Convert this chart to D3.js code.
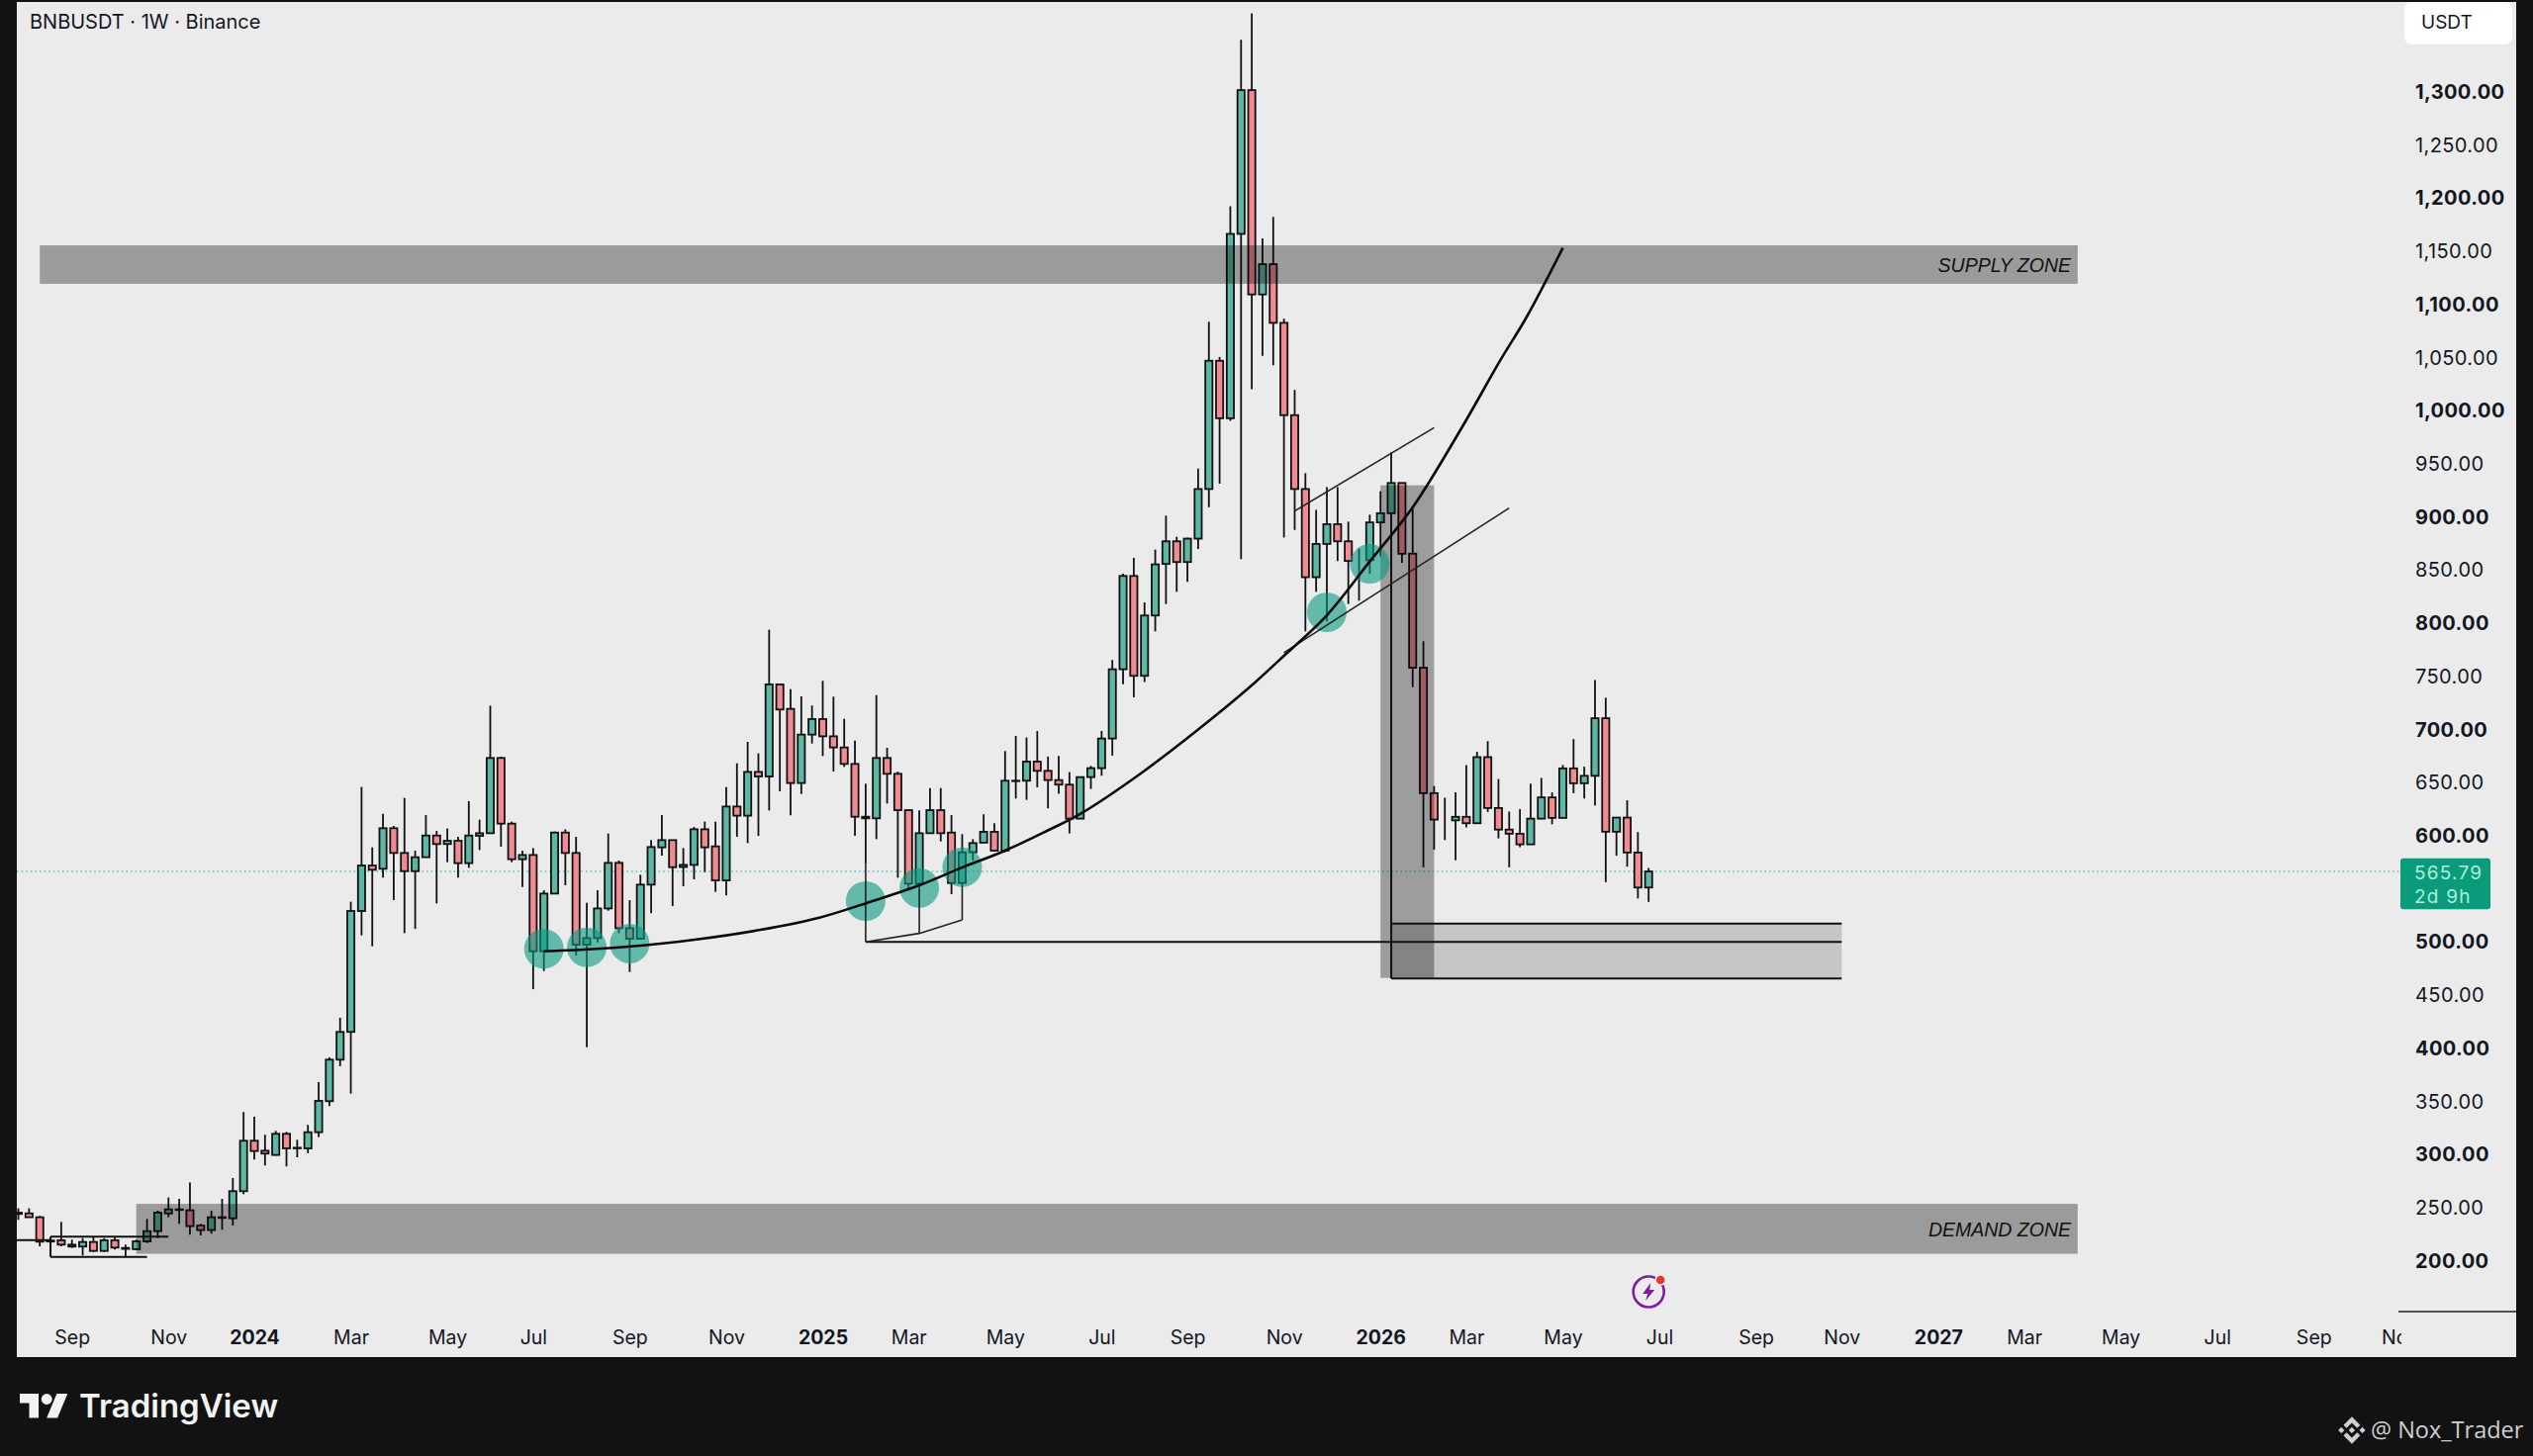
<!DOCTYPE html>
<html>
<head>
    <meta charset='utf-8'>
    <title>BNBUSDT 1W</title>
    <script src="https://cdn.jsdelivr.net/npm/d3@7"></script>
    <style type="text/css">
        html, body { margin: 0; padding: 0; background: #121212; }
        svg { display: block; }
        text { font-family: Inter, "Liberation Sans", sans-serif; }
        .axis text { fill: #131722; }
        .axis .domain { display: none; }
        .price-axis text { font-size: 20px; letter-spacing: 0.4px; }
        .time-axis text { font-size: 19.5px; }
        .wick { stroke: #111; stroke-width: 1.8; }
        .body { stroke: #111; stroke-width: 1.8; }
        .up { fill: #5cb8a3; }
        .down { fill: #f08a93; }
        .draw { fill: none; stroke: #111; stroke-width: 2; }
        .thin { fill: none; stroke: #222; stroke-width: 1.6; }
        .zone-label { font-family: "Liberation Sans", sans-serif; font-style: italic; font-size: 19.5px; fill: #111; text-anchor: end; }
    </style>
</head>
<body>
    <div id="svgContainer"></div>

    <script type="text/javascript">

        const width = 2560;
        const height = 1472;

        // weekly candles, first one is 22 weeks before 2024-01-01
        const firstWeek = -22;
        const opens = [
            244.7, 244, 240.4, 217.5, 218.7, 214.6, 212.8, 217.1, 208.7, 218.7,
            211.5, 210.3, 217.7, 227.3, 244, 247.8, 246.9, 232.6, 228.3, 240.4,
            239.4, 264.9, 312.4, 303, 299, 318.9, 305.2, 305.2, 320.4, 349.6,
            388.7, 414.8, 528.6, 571.4, 568.3, 606.5, 583.2, 566.1, 579.2, 599.6,
            591.6, 594.7, 573.6, 599.3, 601.8, 672.6, 610.8, 577.3, 581.3, 490.7,
            545, 602.4, 583.2, 496.9, 503.1, 531, 573.9, 512.4, 502.5, 553.4,
            588.5, 595.3, 570, 572, 605.5, 589.4, 557.4, 626.9, 618.3, 659.5,
            655.2, 741.8, 718.8, 649, 694.6, 709.2, 693, 682.5, 667, 617.3,
            615.8, 672.6, 657.7, 623.5, 554.3, 601.8, 623.5, 602.4, 554.9, 583.8,
            592.9, 603.1, 585.4, 651.2, 651.2, 669.2, 660.5, 651.8, 647.5, 615.5,
            654.6, 663, 690.9, 756.1, 843.9, 749.9, 806.7, 855.2, 876.5, 857,
            879, 925.7, 1046.4, 992.3, 1165.8, 1301.1, 1108.8, 1137.3, 1082.1, 995.2,
            925.7, 842.7, 874, 892.6, 876.5, 858.7, 858.7, 894.3, 902.9, 931.4,
            864.9, 757.5, 639.5, 615.2, 613.9, 617.2, 611.2, 673.4, 625.5, 605.2,
            601.3, 591.3, 615.5, 635.5, 616.2, 662.8, 648.8, 655.8, 710, 603.2,
            616.5, 583.6, 550.7
        ];
        const closes = [
            243.5, 240.4, 217.4, 218.5, 214.6, 212.8, 217.1, 208.7, 218.7, 211.8,
            210.6, 217.7, 227.3, 244.7, 247.8, 247.2, 232, 228.3, 240.4, 239.8,
            264.9, 312.4, 302.7, 300.3, 318.9, 305.2, 305.8, 320.4, 349.9, 388.7,
            414.8, 528.6, 571.4, 567.4, 606.5, 583.2, 566.1, 579.2, 599.6, 591.6,
            594.7, 573.6, 599.6, 601.8, 672.6, 610.8, 577.3, 581.3, 490.7, 545,
            602.4, 583.2, 496.9, 503.1, 531, 573.9, 512.4, 502.5, 553.4, 588.8,
            595.3, 569.8, 572, 605.5, 588.5, 557.4, 626.9, 618.3, 659.5, 655.2,
            741.8, 718.2, 649, 694.6, 709.2, 693, 682.5, 667, 617.3, 615.8,
            672.6, 657.7, 623.5, 554.3, 601.8, 623.5, 601.8, 554.9, 583.8, 592.5,
            603.1, 585.4, 651.2, 650.8, 669.2, 660.5, 651.8, 647.5, 615.5, 654.6,
            663, 690.9, 756.1, 843.9, 749.9, 806.7, 854.8, 876.5, 857, 879,
            925.7, 1046.4, 992.3, 1165.8, 1301.1, 1108.8, 1137.3, 1082.1, 995.2, 925.7,
            842.7, 874, 892.6, 876.5, 858, 858.7, 894.3, 902.9, 931.4, 864.8,
            757.5, 639.5, 614.6, 615.2, 617.2, 611.2, 673.4, 625.5, 605.2, 601.3,
            591.3, 615.5, 635.5, 616.2, 662.8, 648.8, 655.8, 710, 603.2, 616.5,
            583.6, 550.7, 565.8
        ];
        const highs = [
            248.8, 248.8, 241.6, 221, 236, 219.3, 220.8, 221.8, 220.8, 222.4,
            214.6, 219.3, 238.8, 246.6, 259, 257.7, 273, 234.2, 246.6, 257.7,
            277.3, 339.4, 335, 318, 321.7, 320.7, 313.3, 327.3, 367.6, 390.9,
            428.1, 537.3, 645.3, 588.5, 620.1, 608.6, 635, 585.4, 618.9, 604,
            606.2, 598.4, 631.9, 614.5, 721.9, 673.8, 612.7, 585.4, 587.8, 548.1,
            603.4, 605.5, 598.4, 536.3, 548.1, 601.5, 576.1, 538.8, 562.7, 595.3,
            618.9, 595.3, 587.8, 607.7, 612.7, 612.7, 645.3, 667.6, 687.8, 676.9,
            793.3, 741.8, 737.4, 730.6, 722, 745.2, 730.3, 709.5, 689, 648.4,
            731.8, 682.2, 659.8, 624, 623.2, 644.3, 644.3, 618.9, 600.9, 596.2,
            619.6, 611.2, 679.1, 693.4, 691.9, 698, 673.9, 674.5, 659.3, 654.6,
            665.2, 698, 764.8, 846, 861, 819, 868.7, 900.7, 880.8, 880,
            944.9, 1083.1, 1050, 1191.8, 1348.5, 1373.4, 1161.5, 1181.8, 1086, 1019,
            940.6, 906.1, 927.5, 927.5, 895, 869.4, 901.5, 923.6, 960.2, 931.4,
            907, 782.5, 646.1, 635.2, 640.2, 666, 678.4, 688.4, 652.8, 622.2,
            624.5, 648.5, 653.8, 640.2, 666, 690.4, 664.4, 745.9, 729.3, 616.5,
            632.8, 602.9, 569
        ];
        const lows = [
            237.9, 240.1, 213, 214, 213, 211.5, 204.4, 207.8, 207.8, 210,
            203.8, 209.6, 216.2, 220.8, 240.4, 234.2, 223.9, 223.3, 224.9, 228.6,
            232.6, 262.1, 294.7, 289.1, 298.4, 288.2, 296.8, 300.6, 315.8, 345,
            382.5, 356.7, 505.6, 495.4, 559.9, 538.8, 507.8, 511.8, 579.2, 535.7,
            574.5, 559.9, 569.2, 586, 601.8, 589.1, 574.5, 551.2, 455, 472.1,
            544.4, 552.8, 486.7, 400.4, 499.1, 528.9, 507.8, 471.2, 501.6, 526.4,
            580.7, 533.2, 551.9, 558.4, 565.2, 546.6, 543.2, 598.4, 592.5, 599.3,
            623.2, 641.2, 618.6, 638.7, 686.2, 674.4, 659.8, 664.2, 599.3, 573,
            596.2, 629.7, 559.9, 548.1, 549.7, 601.8, 594.1, 544.4, 550.6, 576.1,
            592.9, 584.8, 583.9, 634.4, 633.2, 645, 625.1, 638.8, 601.6, 615.5,
            643.4, 655.9, 674.8, 742, 729.7, 744, 791.8, 817.5, 829, 838.4,
            869.4, 908.6, 930.7, 989.8, 859.8, 1019.7, 1051.1, 1042.2, 880.1, 887.2,
            791.8, 829, 801.1, 858, 817.5, 820.6, 846, 862.3, 903, 856.2,
            739.2, 569.7, 586.3, 595.3, 576.3, 607.2, 611.2, 621.9, 596.9, 569.7,
            588.6, 591.3, 615.5, 610.2, 616.2, 639.5, 634.5, 627.9, 555.7, 580.6,
            570.3, 540.4, 537.1
        ];

        const lastPrice = 565.79;
        const countdown = "2d 9h";

        // 550 sits behind the last price tag on the chart, so it is left out
        const priceTicks = [200, 250, 300, 350, 400, 450, 500, 600, 650, 700, 750, 800, 850, 900, 950, 1000, 1050, 1100, 1150, 1200, 1250, 1300];

        const timeTickWeeks = [-17, -8, 0, 9, 18, 26, 35, 44, 53, 61, 70, 79, 87, 96, 105, 113, 122, 131, 140, 148, 157, 165, 174, 183, 192, 200];
        const timeTickLabels = ["Sep", "Nov", "2024", "Mar", "May", "Jul", "Sep", "Nov", "2025", "Mar", "May", "Jul", "Sep", "Nov", "2026", "Mar", "May", "Jul", "Sep", "Nov", "2027", "Mar", "May", "Jul", "Sep", "Nov"];

        // drawings on the chart
        const supplyWeeks = [-20, 170], supplyPrices = [1118.8, 1155];
        const demandWeeks = [-11, 170], demandPrices = [206, 253];
        const dropWeeks = [105, 110], dropPrices = [465.6, 929.2];
        const boxWeeks = [106, 148], boxPrices = [465, 516.8];
        const levelWeeks = [57, 148], levelPrice = 499.5;
        const bracketWeeks = [57, 62, 66], bracketPrices = [499.5, 507.5, 520.2];
        const rangeWeeks = [-19, -10, -8], rangeTop = 222.1, rangeBottom = 203.1, rangeTail = [-23, -19], rangeTailPrice = 218.9;
        const upperWeeks = [97, 110], upperPrices = [905, 983.4];
        const lowerWeeks = [96, 117], lowerPrices = [771.6, 907.8];
        const circleWeeks = [27, 31, 35, 57, 62, 66, 100, 104];
        const circlePrices = [493, 494.4, 497.9, 537.9, 550.3, 569.8, 809.7, 855.3];
        const curveWeeks = [27, 30.7, 34.9, 41.05, 47.2, 52.6, 57.1, 62, 65.8, 70, 73.9, 77, 82.9, 89.1, 93.3, 96.1, 100, 104, 108, 112.6, 116.2, 118.6, 122];
        const curvePrices = [490.7, 492.3, 495.1, 501.6, 510.9, 522.1, 536.1, 552.8, 568.7, 585.4, 604, 619.9, 659.9, 708.3, 743.7, 769.7, 806.9, 857.5, 908.4, 983.8, 1047.4, 1087.1, 1152.6];

        const candles = opens.map((o, i) => ({ week: firstWeek + i, open: o, close: closes[i], high: highs[i], low: lows[i] }));

        const x = d3.scaleLinear().domain([0, 130]).range([257, 1666.2]);
        const y = d3.scaleLinear().domain([200, 1300]).range([1274, 92.3]);

        const svg = d3.select("#svgContainer").append("svg")
            .attr("width", width)
            .attr("height", height);

        const defs = svg.append("defs");
        defs.append("clipPath").attr("id", "pane").append("rect")
            .attr("x", 17).attr("y", 2).attr("width", 2526).attr("height", 1370);
        defs.append("clipPath").attr("id", "timeClip").append("rect")
            .attr("x", 17).attr("y", 1327).attr("width", 2410).attr("height", 45);

        svg.append("rect").attr("width", width).attr("height", height).attr("fill", "#121212");
        svg.append("rect").attr("x", 17).attr("y", 2).attr("width", 2526).attr("height", 1370).attr("fill", "#ebebeb");

        const pane = svg.append("g").attr("clip-path", "url(#pane)");

        // last price line
        pane.append("line")
            .attr("x1", 17).attr("x2", 2426)
            .attr("y1", y(lastPrice)).attr("y2", y(lastPrice))
            .attr("stroke", "#089981").attr("stroke-opacity", 0.55)
            .attr("stroke-width", 1.6).attr("stroke-dasharray", "1.6 3");

        const candle = pane.append("g").selectAll("g")
            .data(candles)
            .join("g");

        candle.append("line")
            .attr("class", "wick")
            .attr("x1", d => x(d.week)).attr("x2", d => x(d.week))
            .attr("y1", d => y(d.high)).attr("y2", d => y(d.low));

        candle.append("rect")
            .attr("class", d => "body " + (d.close >= d.open ? "up" : "down"))
            .attr("x", d => x(d.week) - 3.6)
            .attr("width", 7.2)
            .attr("y", d => y(Math.max(d.open, d.close)))
            .attr("height", d => Math.abs(y(d.open) - y(d.close)));

        // zones, drawn over the candles so they show through
        function zone(weeks, prices, opacity) {
            pane.append("rect")
                .attr("x", x(weeks[0])).attr("width", x(weeks[1]) - x(weeks[0]))
                .attr("y", y(prices[1])).attr("height", y(prices[0]) - y(prices[1]))
                .attr("fill", "#000").attr("fill-opacity", opacity);
        }
        zone(supplyWeeks, supplyPrices, 0.34);
        zone(demandWeeks, demandPrices, 0.34);
        zone(dropWeeks, dropPrices, 0.33);
        zone(boxWeeks, boxPrices, 0.16);

        pane.append("text").attr("class", "zone-label").attr("x", 2093).attr("y", 275).text("SUPPLY ZONE");
        pane.append("text").attr("class", "zone-label").attr("x", 2093).attr("y", 1250).text("DEMAND ZONE");

        // teal touch circles
        pane.append("g").selectAll("circle")
            .data(circleWeeks)
            .join("circle")
            .attr("cx", d => x(d))
            .attr("cy", (d, i) => y(circlePrices[i]))
            .attr("r", 20)
            .attr("fill", "#089981")
            .attr("fill-opacity", 0.6);

        const pathLine = d3.line().x(d => x(d[0])).y(d => y(d[1]));

        function hline(w0, w1, p, cls) {
            pane.append("path").attr("class", cls || "draw").attr("d", pathLine([[w0, p], [w1, p]]));
        }
        function vline(w, p0, p1, cls) {
            pane.append("path").attr("class", cls || "draw").attr("d", pathLine([[w, p0], [w, p1]]));
        }

        // box around the target zone
        hline(boxWeeks[0], boxWeeks[1], boxPrices[1]);
        hline(boxWeeks[0], boxWeeks[1], boxPrices[0]);
        vline(boxWeeks[0], boxPrices[0], opens[106 - firstWeek]);

        // level and the rising lows above it
        hline(levelWeeks[0], levelWeeks[1], levelPrice);
        pane.append("path").attr("class", "thin").attr("d", pathLine(bracketWeeks.map((w, i) => [w, bracketPrices[i]])));
        bracketWeeks.forEach((w, i) => vline(w, bracketPrices[i], lows[w - firstWeek], "thin"));

        // range box bottom left
        hline(rangeWeeks[0], rangeWeeks[2], rangeTop);
        hline(rangeWeeks[0], rangeWeeks[1], rangeBottom);
        vline(rangeWeeks[0], rangeTop, rangeBottom);
        hline(rangeTail[0], rangeTail[1], rangeTailPrice);

        // channel
        pane.append("path").attr("class", "thin").attr("d", pathLine(upperWeeks.map((w, i) => [w, upperPrices[i]])));
        pane.append("path").attr("class", "thin").attr("d", pathLine(lowerWeeks.map((w, i) => [w, lowerPrices[i]])));

        // parabolic curve
        pane.append("path")
            .attr("fill", "none")
            .attr("stroke", "#0a0a0a")
            .attr("stroke-width", 2.6)
            .attr("d", pathLine.curve(d3.curveCatmullRom)(curveWeeks.map((w, i) => [w, curvePrices[i]])));

        // axes
        const yAxis = svg.append("g")
            .attr("class", "axis price-axis")
            .attr("transform", "translate(2441,0)")
            .call(d3.axisRight(y).tickValues(priceTicks).tickSize(0).tickPadding(0).tickFormat(d3.format(",.2f")));
        yAxis.selectAll("text").attr("dy", "0.36em")
            .style("font-weight", d => d % 100 === 0 ? 700 : 400);

        const xAxis = svg.append("g").attr("clip-path", "url(#timeClip)")
            .append("g")
            .attr("class", "axis time-axis")
            .attr("transform", "translate(0,1352)")
            .call(d3.axisBottom(x).tickValues(timeTickWeeks).tickSize(0).tickPadding(0).tickFormat((d, i) => timeTickLabels[i]));
        xAxis.selectAll("text").attr("dy", "0.36em")
            .style("font-weight", (d, i) => /^\d/.test(timeTickLabels[i]) ? 700 : 400);

        svg.append("line").attr("x1", 2424).attr("x2", 2543).attr("y1", 1326).attr("y2", 1326)
            .attr("stroke", "#222").attr("stroke-width", 1.6);

        // header
        svg.append("text").attr("x", 30).attr("y", 28.5).attr("font-size", 20).attr("fill", "#131722")
            .text("BNBUSDT · 1W · Binance");

        svg.append("rect").attr("x", 2430).attr("y", 2).attr("width", 109).attr("height", 43).attr("rx", 8).attr("fill", "#fff");
        svg.append("text").attr("x", 2447).attr("y", 29).attr("font-size", 19).attr("fill", "#131722").text("USDT");

        // last price tag
        svg.append("rect").attr("x", 2426).attr("y", 867.7).attr("width", 91).attr("height", 51.6).attr("rx", 3).attr("fill", "#0b9b7b");
        svg.append("text").attr("x", 2440).attr("y", 889).attr("font-size", 19).attr("letter-spacing", 1.2).attr("fill", "#a9f0da").text(d3.format(".2f")(lastPrice));
        svg.append("text").attr("x", 2440).attr("y", 912.5).attr("font-size", 19).attr("letter-spacing", 1.2).attr("fill", "#a9f0da").text(countdown);

        // lightning badge under the last candle
        const badge = svg.append("g").attr("transform", "translate(" + x(130) + ",1306)");
        badge.append("circle").attr("r", 15.5).attr("fill", "none").attr("stroke", "#7d1f9c").attr("stroke-width", 2.6);
        badge.append("path").attr("d", "M2,-9L-6,2H-1L-3,9L6,-2H1Z").attr("fill", "#7d1f9c");
        badge.append("circle").attr("cx", 12).attr("cy", -12).attr("r", 5).attr("fill", "#e53935").attr("stroke", "#ebebeb").attr("stroke-width", 1.5);

        // footer
        svg.append("path")
            .attr("transform", "translate(20,1403.6) scale(1.36)")
            .attr("fill", "#f2f2f2")
            .attr("d", "M14 22H7V11H0V4h14v18zM28 22h-8l7.5-18h8L28 22z");
        svg.append("circle").attr("cx", 20 + 20 * 1.36).attr("cy", 1403.6 + 8 * 1.36).attr("r", 4 * 1.36).attr("fill", "#f2f2f2");
        svg.append("text").attr("x", 80).attr("y", 1433).attr("font-size", 33).attr("font-weight", 600).attr("fill", "#f2f2f2").text("TradingView");

        svg.append("path")
            .attr("transform", "translate(2363.2,1432.2) scale(0.217)")
            .attr("fill", "#cfcfcf")
            .attr("d", "M38.73 53.2l24.59-24.58 24.6 24.6 14.3-14.31L63.32 0 24.43 38.9z M0 63.31l14.3-14.31 14.31 14.31-14.31 14.3z M38.73 73.41l24.59 24.59 24.6-24.6 14.31 14.29-.01.01-38.9 38.91-38.91-38.88-.02-.02z M98 63.31l14.3-14.31 14.31 14.3-14.31 14.32z M77.83 63.3l-14.51-14.52-10.73 10.73-1.24 1.23-2.54 2.54 14.51 14.5 14.51-14.47z");
        svg.append("text").attr("x", 2396).attr("y", 1454).attr("font-size", 23.5)
            .style("font-family", "'Open Sans', sans-serif").attr("fill", "#cfcfcf").text("@ Nox_Trader");

    </script>
</body>
</html>
